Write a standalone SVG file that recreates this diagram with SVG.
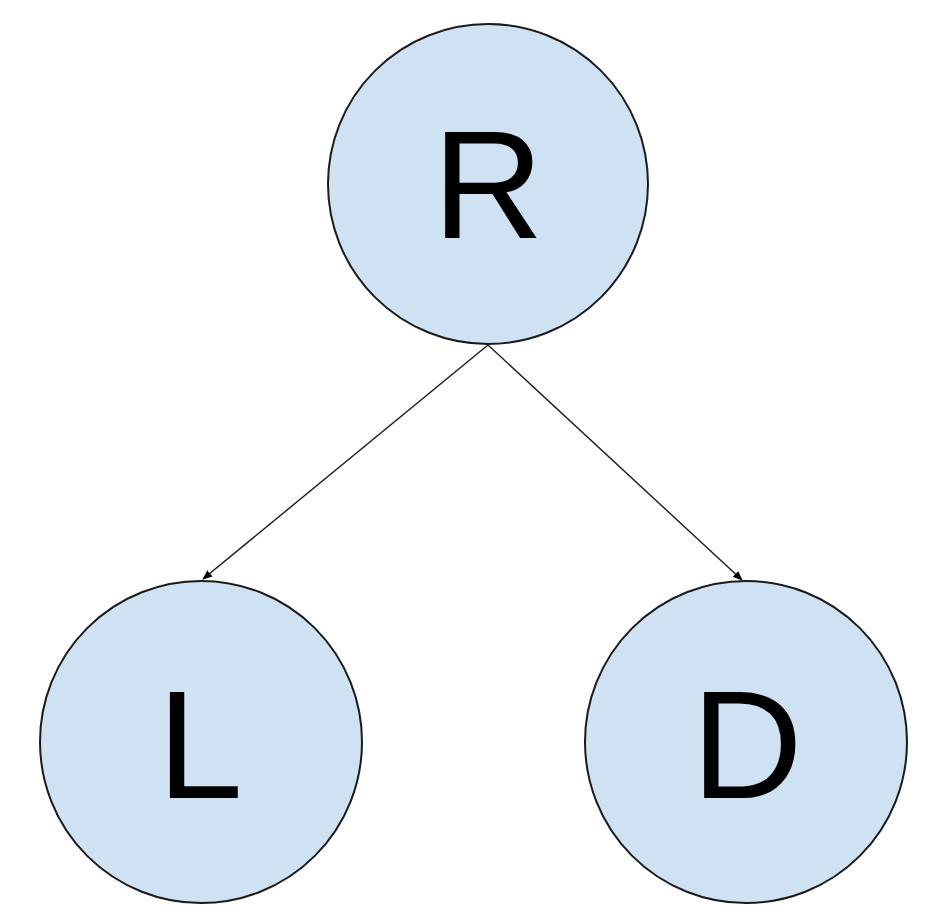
<svg xmlns="http://www.w3.org/2000/svg" width="944" height="920" viewBox="0 0 944 920">
<style>
.node{fill:#cfe2f3;stroke:#1a1a1a;stroke-width:2}
.lbl{font-family:"Liberation Sans",Arial,sans-serif;font-size:154px;fill:#000;text-anchor:middle}
.edge{stroke:#1a1a1a;stroke-width:1.4;fill:none;marker-end:url(#ah)}
</style>
<defs>
<marker id="ah" markerWidth="10" markerHeight="10" refX="9" refY="5" orient="auto" markerUnits="userSpaceOnUse" viewBox="0 0 10 10">
<path d="M0,1 L10,5 L0,9 Z" fill="#000"/>
</marker>
</defs>
<rect width="944" height="920" fill="#fff"/>
<g id="connectors">
<line class="edge" x1="488" y1="345" x2="203" y2="579"/>
<line class="edge" x1="488" y1="345" x2="742" y2="580"/>
</g>
<g id="node-R">
<circle class="node" cx="488" cy="184" r="160"/>
<text class="lbl" x="488" y="238">R</text>
</g>
<g id="node-L">
<circle class="node" cx="201" cy="742" r="161"/>
<text class="lbl" x="200" y="798">L</text>
</g>
<g id="node-D">
<circle class="node" cx="746" cy="742" r="161"/>
<text class="lbl" x="747" y="798">D</text>
</g>
</svg>
